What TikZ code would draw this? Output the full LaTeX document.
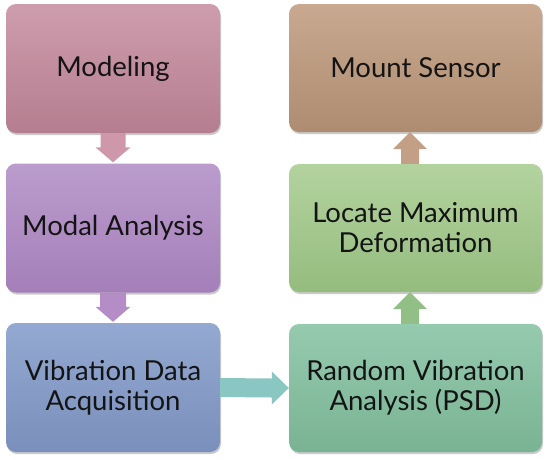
\documentclass[tikz,border=0pt]{standalone}
\usepackage{fontspec}
\setmainfont{Lato}
\usetikzlibrary{calc,shadows}
\definecolor{txt}{HTML}{141414}
\tikzset{
  box/.style={rounded corners=10pt, align=center, text=txt, inner sep=0pt,
    font=\fontsize{27.5}{30}\selectfont,
    drop shadow={shadow xshift=1pt, shadow yshift=-2pt, opacity=0.35, fill=black!60}},
  lbox/.style={box, minimum width=214pt, minimum height=129pt},
  rbox/.style={box, minimum width=253pt, minimum height=128pt},
  pinkbox/.style={lbox, top color=pinkT, bottom color=pinkB},
  purplebox/.style={lbox, top color=purT, bottom color=purB},
  bluebox/.style={lbox, top color=bluT, bottom color=bluB},
  tealbox/.style={rbox, top color=teaT, bottom color=teaB},
  greenbox/.style={rbox, top color=grnT, bottom color=grnB},
  tanbox/.style={rbox, top color=tanT, bottom color=tanB},
}
\definecolor{pinkT}{HTML}{CE9DAD}
\definecolor{pinkB}{HTML}{B57E90}
\definecolor{purT}{HTML}{BB9CCD}
\definecolor{purB}{HTML}{A47FB9}
\definecolor{bluT}{HTML}{93A9D1}
\definecolor{bluB}{HTML}{7A8FBB}
\definecolor{teaT}{HTML}{95CAAE}
\definecolor{teaB}{HTML}{7AB394}
\definecolor{grnT}{HTML}{B3D39E}
\definecolor{grnB}{HTML}{95BC7F}
\definecolor{tanT}{HTML}{C8A98F}
\definecolor{tanB}{HTML}{AE8C71}
\definecolor{arPink}{HTML}{CE98AA}
\definecolor{arPur}{HTML}{B48DC7}
\definecolor{arTeal}{HTML}{8AC6C2}
\definecolor{arGrn}{HTML}{92BF86}
\definecolor{arTan}{HTML}{C39F85}
\begin{document}
\begin{tikzpicture}[x=1pt,y=-1pt]
\useasboundingbox (0,0) rectangle (550,459);
% boxes
\node[pinkbox]   (modeling) at (113,68.5) {Modeling};
\node[purplebox] (modal)    at (113,228)  {Modal Analysis};
\node[bluebox]   (vib)      at (113,387.5){Vibration Data\\Acquisition};
\node[tealbox]   (psd)      at (415.5,388){Random Vibration\\Analysis (PSD)};
\node[greenbox]  (defo)     at (415.5,228){Locate Maximum\\Deformation};
\node[tanbox]    (mount)    at (415.5,68) {Mount Sensor};
% down arrows (left column)
\fill[arPink] ($(modeling.south)+(-12.5,0)$) -- ($(modeling.south)+(12.5,0)$)
  -- ($(modal.north)+(12.5,-16)$) -- ($(modal.north)+(17.5,-16)$) -- ($(modal.north)+(0,-1)$)
  -- ($(modal.north)+(-17.5,-16)$) -- ($(modal.north)+(-12.5,-16)$) -- cycle;
\fill[arPur] ($(modal.south)+(-13,0)$) -- ($(modal.south)+(13,0)$)
  -- ($(vib.north)+(13,-16)$) -- ($(vib.north)+(17.5,-16)$) -- ($(vib.north)+(0,-1)$)
  -- ($(vib.north)+(-17.5,-16)$) -- ($(vib.north)+(-13,-16)$) -- cycle;
% horizontal arrow
\fill[arTeal] ($(vib.east)+(0,-9.5)$) -- ($(psd.west)+(-17,-9.5)$) -- ($(psd.west)+(-17,-16.5)$)
  -- ($(psd.west)+(0,0)$) -- ($(psd.west)+(-17,16.5)$) -- ($(psd.west)+(-17,9.5)$)
  -- ($(vib.east)+(0,9.5)$) -- cycle;
% up arrows (right column)
\fill[arGrn] ($(psd.north)+(-14.5,0)$) -- ($(psd.north)+(3.5,0)$)
  -- ($(defo.south)+(3.5,17)$) -- ($(defo.south)+(11.5,17)$) -- ($(defo.south)+(-5.5,0)$)
  -- ($(defo.south)+(-22.5,17)$) -- ($(defo.south)+(-14.5,17)$) -- cycle;
\fill[arTan] ($(defo.north)+(-14.5,0)$) -- ($(defo.north)+(3.5,0)$)
  -- ($(mount.south)+(3.5,17)$) -- ($(mount.south)+(11.5,17)$) -- ($(mount.south)+(-5.5,0)$)
  -- ($(mount.south)+(-22.5,17)$) -- ($(mount.south)+(-14.5,17)$) -- cycle;
\end{tikzpicture}
\end{document}
